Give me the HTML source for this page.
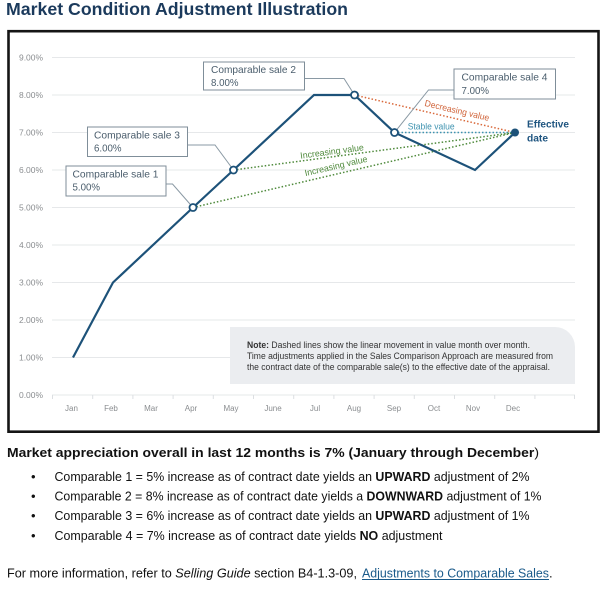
<!DOCTYPE html>
<html>
<head>
<meta charset="utf-8">
<style>
  html,body{margin:0;padding:0;background:#fff;}
  svg{display:block;}
  text{font-family:"Liberation Sans","DejaVu Sans",sans-serif;}
</style>
</head>
<body>
<svg width="614" height="589" viewBox="0 0 614 589" xmlns="http://www.w3.org/2000/svg">
  <!-- Title -->
  <text x="6" y="15" font-size="17.5" font-weight="bold" fill="#1b3a5c" textLength="342" lengthAdjust="spacingAndGlyphs">Market Condition Adjustment Illustration</text>

  <!-- Frame -->
  <rect x="8.5" y="31.2" width="590" height="400.5" fill="#fff" stroke="#151515" stroke-width="2.6"/>

  <!-- Gridlines -->
  <g stroke="#e6e8ea" stroke-width="1">
    <line x1="52" y1="57.5" x2="575" y2="57.5"/>
    <line x1="52" y1="95" x2="575" y2="95"/>
    <line x1="52" y1="132.5" x2="575" y2="132.5"/>
    <line x1="52" y1="170" x2="575" y2="170"/>
    <line x1="52" y1="207.5" x2="575" y2="207.5"/>
    <line x1="52" y1="245" x2="575" y2="245"/>
    <line x1="52" y1="282.5" x2="575" y2="282.5"/>
    <line x1="52" y1="320" x2="575" y2="320"/>
    <line x1="52" y1="357.5" x2="575" y2="357.5"/>
    <line x1="52" y1="395" x2="575" y2="395"/>
  </g>
  <!-- x ticks -->
  <g stroke="#dcdfe2" stroke-width="1">
    <line x1="52.5" y1="395" x2="52.5" y2="399"/>
    <line x1="92.7" y1="395" x2="92.7" y2="399"/>
    <line x1="132.9" y1="395" x2="132.9" y2="399"/>
    <line x1="173.1" y1="395" x2="173.1" y2="399"/>
    <line x1="213.3" y1="395" x2="213.3" y2="399"/>
    <line x1="253.5" y1="395" x2="253.5" y2="399"/>
    <line x1="293.7" y1="395" x2="293.7" y2="399"/>
    <line x1="333.9" y1="395" x2="333.9" y2="399"/>
    <line x1="374.1" y1="395" x2="374.1" y2="399"/>
    <line x1="414.3" y1="395" x2="414.3" y2="399"/>
    <line x1="454.5" y1="395" x2="454.5" y2="399"/>
    <line x1="494.7" y1="395" x2="494.7" y2="399"/>
    <line x1="534.9" y1="395" x2="534.9" y2="399"/>
    <line x1="574.5" y1="395" x2="574.5" y2="399"/>
  </g>

  <!-- Y labels -->
  <g font-size="8" fill="#8a8d90">
    <text x="19" y="60.5" textLength="24" lengthAdjust="spacingAndGlyphs">9.00%</text>
    <text x="19" y="98" textLength="24" lengthAdjust="spacingAndGlyphs">8.00%</text>
    <text x="19" y="135.5" textLength="24" lengthAdjust="spacingAndGlyphs">7.00%</text>
    <text x="19" y="173" textLength="24" lengthAdjust="spacingAndGlyphs">6.00%</text>
    <text x="19" y="210.5" textLength="24" lengthAdjust="spacingAndGlyphs">5.00%</text>
    <text x="19" y="248" textLength="24" lengthAdjust="spacingAndGlyphs">4.00%</text>
    <text x="19" y="285.5" textLength="24" lengthAdjust="spacingAndGlyphs">3.00%</text>
    <text x="19" y="323" textLength="24" lengthAdjust="spacingAndGlyphs">2.00%</text>
    <text x="19" y="360.5" textLength="24" lengthAdjust="spacingAndGlyphs">1.00%</text>
    <text x="19" y="398" textLength="24" lengthAdjust="spacingAndGlyphs">0.00%</text>
  </g>

  <!-- Month labels -->
  <g font-size="8" fill="#8a8d90" text-anchor="middle">
    <text x="71.5" y="411">Jan</text>
    <text x="111" y="411">Feb</text>
    <text x="151" y="411">Mar</text>
    <text x="191" y="411">Apr</text>
    <text x="231" y="411">May</text>
    <text x="273" y="411">June</text>
    <text x="315" y="411">Jul</text>
    <text x="354" y="411">Aug</text>
    <text x="394" y="411">Sep</text>
    <text x="434" y="411">Oct</text>
    <text x="473" y="411">Nov</text>
    <text x="513" y="411">Dec</text>
  </g>

  <!-- Note box -->
  <path d="M230,327 H555 A20,20 0 0 1 575,347 V384 H230 Z" fill="#ebedf0"/>
  <g font-size="9" fill="#333">
    <text x="247" y="348" textLength="283" lengthAdjust="spacingAndGlyphs"><tspan font-weight="bold">Note:</tspan> Dashed lines show the linear movement in value month over month.</text>
    <text x="247" y="359" textLength="306" lengthAdjust="spacingAndGlyphs">Time adjustments applied in the Sales Comparison Approach are measured from</text>
    <text x="247" y="370" textLength="303" lengthAdjust="spacingAndGlyphs">the contract date of the comparable sale(s) to the effective date of the appraisal.</text>
  </g>

  <!-- Dotted trend lines -->
  <g fill="none" stroke-width="1.5" stroke-dasharray="1.5 2">
    <line x1="354.5" y1="95" x2="515" y2="132.5" stroke="#d9693b"/>
    <line x1="394.5" y1="132.5" x2="515" y2="132.5" stroke="#3f93b0"/>
    <line x1="233.5" y1="170" x2="515" y2="132.5" stroke="#4f8a3c"/>
    <line x1="193" y1="207.5" x2="515" y2="132.5" stroke="#4f8a3c"/>
  </g>

  <!-- Trend labels -->
  <text x="457" y="113.5" font-size="9" fill="#d0643a" text-anchor="middle" transform="rotate(13.15 457 110.5)" textLength="66" lengthAdjust="spacingAndGlyphs">Decreasing value</text>
  <text x="407.7" y="129.5" font-size="9" fill="#3f93b0" textLength="47" lengthAdjust="spacingAndGlyphs">Stable value</text>
  <text x="332" y="154.5" font-size="9" fill="#4f8a3c" text-anchor="middle" transform="rotate(-7.6 332 151.5)" textLength="64" lengthAdjust="spacingAndGlyphs">Increasing value</text>
  <text x="336" y="169" font-size="9" fill="#4f8a3c" text-anchor="middle" transform="rotate(-13.1 336 166)" textLength="64" lengthAdjust="spacingAndGlyphs">Increasing value</text>

  <!-- Main line -->
  <polyline points="73,357.5 113,282.5 193,207.5 233.5,170 314,95 354.5,95 394.5,132.5 475,170 515,132.5" fill="none" stroke="#1d5279" stroke-width="2.2" stroke-linejoin="miter"/>

  <!-- Leader lines -->
  <g fill="none" stroke="#8a99a4" stroke-width="1">
    <polyline points="304.5,78.5 344,78.5 354.5,95"/>
    <polyline points="454,90 428.5,90 394.5,132.5"/>
    <polyline points="187.5,145 215,145 233.5,170"/>
    <polyline points="166,184 172.5,184 193,207.5"/>
  </g>

  <!-- Points -->
  <g fill="#fff" stroke="#1d5279" stroke-width="1.8">
    <circle cx="354.5" cy="95" r="3.5"/>
    <circle cx="394.5" cy="132.5" r="3.5"/>
    <circle cx="233.5" cy="170" r="3.5"/>
    <circle cx="193" cy="207.5" r="3.5"/>
  </g>
  <circle cx="515" cy="132.5" r="4" fill="#1d5279"/>

  <!-- Effective date -->
  <g font-size="10.5" font-weight="bold" fill="#1f5580">
    <text x="527" y="127.5" textLength="42" lengthAdjust="spacingAndGlyphs">Effective</text>
    <text x="527" y="141.5" textLength="21" lengthAdjust="spacingAndGlyphs">date</text>
  </g>

  <!-- Callout boxes -->
  <g fill="#fff" stroke="#7f8e99" stroke-width="1">
    <rect x="203.5" y="62" width="101" height="28"/>
    <rect x="454" y="69" width="101.5" height="30"/>
    <rect x="87.5" y="127" width="100" height="29.5"/>
    <rect x="66" y="166" width="100" height="30"/>
  </g>
  <g font-size="10.5" fill="#4a5d6c">
    <text x="211" y="73" textLength="85" lengthAdjust="spacingAndGlyphs">Comparable sale 2</text>
    <text x="211" y="86" textLength="27.5" lengthAdjust="spacingAndGlyphs">8.00%</text>
    <text x="461.5" y="80.5" textLength="86" lengthAdjust="spacingAndGlyphs">Comparable sale 4</text>
    <text x="461.5" y="94" textLength="27.5" lengthAdjust="spacingAndGlyphs">7.00%</text>
    <text x="94" y="138.5" textLength="86" lengthAdjust="spacingAndGlyphs">Comparable sale 3</text>
    <text x="94" y="151.5" textLength="27.5" lengthAdjust="spacingAndGlyphs">6.00%</text>
    <text x="72.5" y="177.5" textLength="86" lengthAdjust="spacingAndGlyphs">Comparable sale 1</text>
    <text x="72.5" y="190.5" textLength="27.5" lengthAdjust="spacingAndGlyphs">5.00%</text>
  </g>

  <!-- Bottom text -->
  <text x="7" y="457" font-size="13" fill="#111" textLength="532" lengthAdjust="spacingAndGlyphs"><tspan font-weight="bold">Market appreciation overall in last 12 months is 7% (January through December</tspan>)</text>

  <g font-size="13" fill="#111">
    <text x="31" y="481">•</text>
    <text x="31" y="500.5">•</text>
    <text x="31" y="520">•</text>
    <text x="31" y="540">•</text>
    <text x="54.5" y="481" textLength="475" lengthAdjust="spacingAndGlyphs">Comparable 1 = 5% increase as of contract date yields an <tspan font-weight="bold">UPWARD</tspan> adjustment of 2%</text>
    <text x="54.5" y="500.5" textLength="487" lengthAdjust="spacingAndGlyphs">Comparable 2 = 8% increase as of contract date yields a <tspan font-weight="bold">DOWNWARD</tspan> adjustment of 1%</text>
    <text x="54.5" y="520" textLength="475" lengthAdjust="spacingAndGlyphs">Comparable 3 = 6% increase as of contract date yields an <tspan font-weight="bold">UPWARD</tspan> adjustment of 1%</text>
    <text x="54.5" y="540" textLength="388" lengthAdjust="spacingAndGlyphs">Comparable 4 = 7% increase as of contract date yields <tspan font-weight="bold">NO</tspan> adjustment</text>
  </g>

  <text x="7" y="577.5" font-size="13" fill="#111" textLength="350" lengthAdjust="spacingAndGlyphs">For more information, refer to <tspan font-style="italic">Selling Guide</tspan> section B4-1.3-09,</text>
  <text x="362" y="577.5" font-size="13" fill="#1a5a8a" textLength="187" lengthAdjust="spacingAndGlyphs">Adjustments to Comparable Sales</text>
  <line x1="362" y1="579.5" x2="549" y2="579.5" stroke="#1a5a8a" stroke-width="1"/>
  <text x="549" y="577.5" font-size="13" fill="#111">.</text>
</svg>
</body>
</html>
